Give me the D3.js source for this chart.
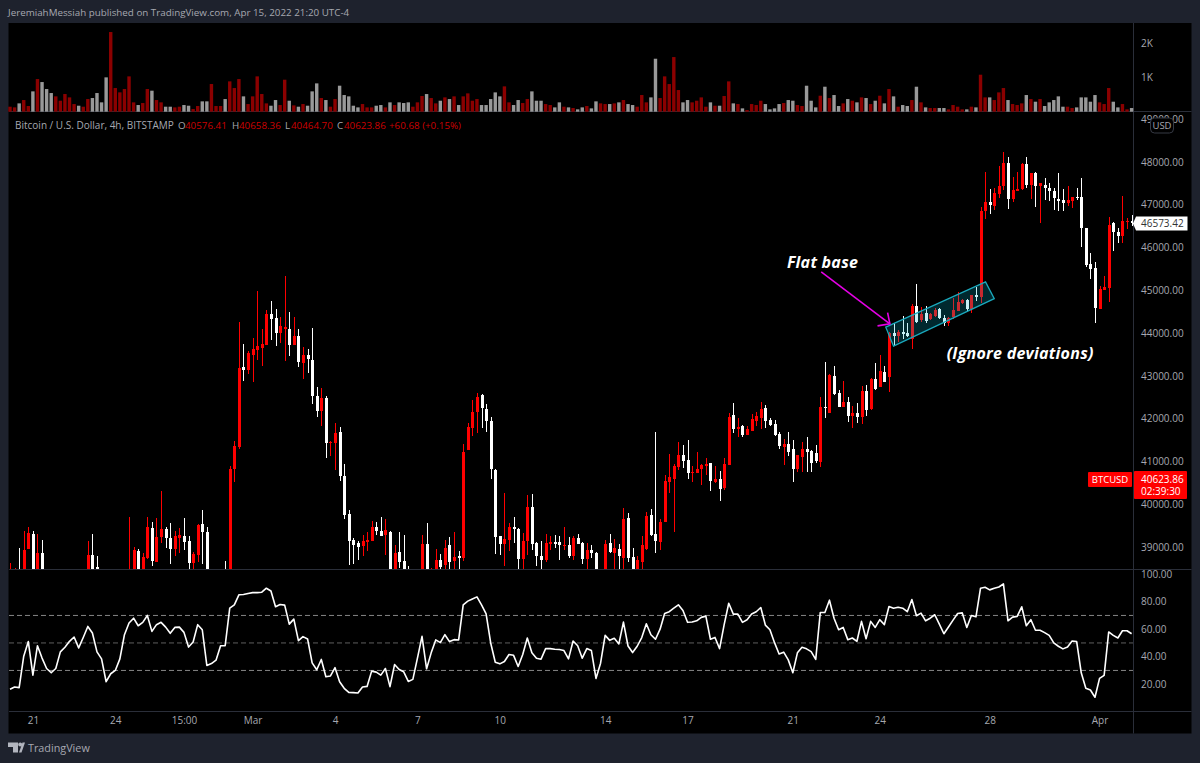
<!DOCTYPE html>
<html><head><meta charset="utf-8">
<script src="https://d3js.org/d3.v7.min.js"></script>
<style>
html,body{margin:0;padding:0;background:#1e222d;overflow:hidden}
svg{display:block}
text{font-family:"Open Sans","Liberation Sans",sans-serif}
</style></head><body>
<svg id="c" width="1200" height="763"></svg>
<script>
const headerText = "JeremiahMessiah published on TradingView.com, Apr 15, 2022 21:20 UTC-4";
const legendName = "Bitcoin / U.S. Dollar, 4h, BITSTAMP";
const legendOHLC = [["O","40576.41",178,185],["H","40658.36",232,239],["L","40464.70",285,291],["C","40623.86",337,344]];
const legendChange = "+60.68 (+0.15%)";

const opens = [38200,38250,38420,38300,38957,39307,38300,38855,38350,38300,
38050,38100,38150,38200,38100,38300,38100,38300,38817,38544,
38300,38250,37950,38100,38150,38200,38200,38300,38910,38300,
38739,39455,38661,39230,39424,39206,38949,39206,39268,39151,
38622,38817,39541,39362,38100,38150,38100,38420,38400,40826,
41348,43218,43140,43491,43607,43662,43724,44441,44355,43997,
44106,44090,43716,43935,43311,43483,43374,42532,42190,42486,
41426,41426,41691,40663,39767,39167,39089,39027,39128,39151,
39471,39385,39284,39362,38300,38879,38677,38450,38100,38150,
38300,39075,38200,38300,38700,38584,39051,38662,38779,38740,
41271,41778,42167,42557,42230,41949,40804,39246,39075,39152,
39464,39425,38724,39129,39924,39090,38779,38700,39075,39114,
39114,39028,39051,38779,39207,39090,38724,38934,38856,38100,
38300,39090,38856,38958,38740,39674,38755,38300,38638,38958,
39737,39308,39121,39589,40531,40594,40866,41155,41038,40749,
40726,40820,40897,40952,40516,40586,40376,40921,42089,41754,
41832,41614,41708,41934,42027,42261,41973,41879,41645,41341,
41412,41287,40835,41114,41286,41255,41192,40998,42283,42143,
43007,42610,42267,42384,42073,42127,42049,42657,42221,42922,
42750,43101,42968,43997,43934,44036,43997,43857,44636,44308,
44480,44324,44402,44565,44347,44246,44371,44526,44698,44768,
44565,44893,44854,46855,47057,46979,47252,47447,47969,47127,
47346,47361,47945,47462,47751,47439,47462,47400,47330,47143,
47104,47034,47088,47182,47174,46450,45616,45515,44572,45009,
45063,46566,46372,46278,46606,46621];
const closes = [38400,38420,38300,38933,39323,38300,38855,38300,38150,38050,
38250,38350,38400,38350,38300,38100,38300,38817,38300,38300,
38100,37950,38200,38300,38350,38400,38450,38933,38300,38777,
39479,38676,39230,39424,39206,38957,39268,39284,39128,38622,
38840,39518,39346,38300,38350,38380,38350,38200,40826,41372,
43187,43140,43545,43631,43701,43748,44441,44340,43997,44168,
44145,43716,43935,43327,43483,43397,42540,42190,42486,41426,
41457,41660,40671,39751,39151,39050,39011,39151,39167,39479,
39385,39268,39400,38300,38855,38660,38300,38250,38250,38350,
39075,38300,38420,38700,38529,38973,38638,38755,38740,41232,
41801,42167,42518,42245,41934,40820,39230,39075,39191,39464,
39425,38724,39129,39924,39075,38779,38700,39090,39114,39075,
39051,39051,38794,39207,39075,38724,38934,38856,38300,38300,
39075,38880,38973,38779,39659,38740,38300,38685,39036,39721,
39269,39145,39581,40547,40625,40897,41155,41014,40726,40757,
40820,40921,40944,40547,40594,40360,40944,42050,41762,41801,
41622,41754,41996,42066,42230,41934,41856,41622,41365,41412,
41232,40827,41139,41286,41231,40974,41021,42283,42244,43023,
42579,42283,42384,42073,42127,42049,42657,42205,42922,42696,
43117,42867,43997,43934,44020,43973,43934,44643,44269,44441,
44293,44449,44542,44347,44246,44347,44542,44737,44776,44558,
44893,44854,46863,47057,46995,47268,47439,47984,47135,47346,
47361,47945,47462,47735,47439,47501,47400,47330,47151,47088,
47049,47112,47190,47151,46465,45593,45499,44596,45032,45071,
46527,46372,46278,46621,46621,46573];
const highs = [38622,38520,38972,39377,39479,39377,39307,39167,38420,38400,
38380,38430,38450,38440,38400,38420,38400,39151,39300,38793,
38420,38400,38440,38420,38450,38470,39712,39011,38949,38871,
39712,39595,39673,40320,39479,39557,39377,39440,39673,39268,
38879,39541,39868,39463,38440,38450,38470,38676,40904,41481,
44254,43748,43584,43880,44978,44090,44542,44745,44558,44379,
45337,44488,44379,44090,43685,43631,44122,42735,42712,42532,
41489,41894,41800,40943,39868,39206,39144,39284,39346,39612,
39580,39697,39658,39385,39050,39346,39269,38560,38400,38450,
39285,39558,38506,38950,38841,39168,39230,39355,38895,41412,
41895,42440,42596,42580,42339,42050,40827,39246,40259,39558,
39698,39441,39324,40204,40228,39106,39145,39308,39246,39285,
39246,39464,39223,39246,39308,39114,39090,39043,38872,38440,
39168,39308,39192,39067,39908,39791,38973,38794,39261,39815,
39885,41692,39659,40687,41178,40944,41466,41388,41505,40905,
41217,40944,41069,40960,40905,40773,41077,42144,42362,42027,
41856,41817,42105,42167,42393,42331,42027,41965,41700,41521,
41692,41490,41155,41465,41582,41270,41387,42501,43335,43039,
43241,42672,42891,42517,42306,42361,42774,42789,42945,43296,
43490,43241,44036,44230,44075,44402,44230,44674,45142,44620,
44636,44464,44581,44597,44425,44386,44815,44970,44791,44791,
44893,45087,46940,47758,47369,47384,47906,48226,48124,47642,
47758,47969,48109,47735,47774,47501,47618,47517,47384,47735,
47361,47439,47190,47400,47634,46450,45865,45671,45102,45336,
46722,46605,46450,47213,46683,46761];
const lows = [38000,38100,38100,38200,38950,38200,38200,38200,38000,37900,
37950,38000,38050,38100,38000,38000,38000,38200,38200,38200,
38000,37800,37700,38000,38050,38100,38100,38200,38200,38200,
38715,38567,38645,39089,38972,38598,38801,38855,38933,38490,
38490,38661,38606,38200,38000,38050,38000,38000,38300,40530,
41294,42883,43047,42867,43374,43233,43724,43841,43701,43779,
43350,43467,43716,43210,42930,43078,42345,42049,41839,41076,
41138,40803,40554,39658,38590,38606,38700,38801,38918,39151,
39284,39268,38817,38200,38200,38500,38100,38100,38000,38050,
38200,38200,38000,38200,38490,38490,38490,38490,38490,38662,
41271,41599,41676,41778,41700,40586,38841,38802,38545,38911,
39090,38490,38490,38817,38919,38545,38490,38646,38934,38973,
38685,38934,38732,38700,39075,38607,38490,38732,38200,38000,
38200,38856,38490,38490,38490,38638,38200,38200,38490,38934,
39246,38856,38934,39589,40274,39347,40804,40843,40578,40508,
40726,40438,40687,40305,40492,40080,40321,40921,41661,41560,
41560,41614,41708,41817,41762,41793,41832,41599,41287,40921,
41131,40531,40742,40764,40764,40764,40959,40881,42010,42143,
42563,42267,42267,41932,41777,41909,41878,42073,42205,42672,
42735,42867,42634,43701,43802,43857,43919,43631,44230,44269,
44230,44308,44371,44332,44168,44168,44340,44511,44680,44527,
44464,44760,44712,46668,46777,46878,47151,47346,46894,47073,
47346,47346,47384,47127,46956,46582,47112,47088,46878,46855,
46863,46979,46917,47112,46006,45538,45258,44245,44572,45009,
44736,45920,46115,46099,46426,46500];
const volumes = [147,127,245,343,167,598,960,872,667,549,
451,323,520,421,225,176,147,372,402,549,
275,1010,2343,696,569,667,1039,275,196,255,
667,618,343,275,147,147,127,147,196,176,
78,167,304,304,814,167,167,372,892,696,
960,451,225,451,1039,520,245,176,343,196,
941,323,186,147,225,176,598,833,402,343,
147,372,765,490,451,176,127,225,127,127,
176,196,127,275,196,275,255,275,147,275,
461,519,402,245,323,421,372,451,196,451,
539,323,372,196,196,372,568,451,745,275,
196,343,255,372,598,323,323,225,196,127,
275,147,127,108,69,127,167,98,304,245,
225,225,245,275,343,225,196,147,490,275,
421,1558,402,1039,813,1607,637,275,343,275,
323,421,147,275,176,176,461,892,245,225,
98,49,225,196,323,225,69,98,225,255,
343,323,196,167,764,323,127,470,735,402,
490,167,245,372,323,275,421,402,225,323,
470,245,666,451,147,196,167,343,735,275,
127,108,108,108,108,69,196,147,69,69,
147,127,1088,421,421,343,568,696,343,225,
196,245,490,372,294,372,167,275,343,451,
147,147,108,127,421,421,294,490,275,225,
696,294,127,225,69,108];
const rsi = [16.3,18,17.5,40.4,51,26.6,48,39,31.4,28.3,
31.4,43.5,46.9,51.2,54.3,46.4,54,62,57.2,43.5,
38.4,21.8,27.6,30,38.4,56,64.5,68,62.5,65,
70,58.4,63.3,65,61.5,57,61.3,61.5,57.7,47,
50.7,63.3,59.6,33.6,35,37.5,48,48,75.3,77.7,
85,85.2,86,86.6,86.6,86.9,89.8,87.8,76.3,78,
77.5,63.7,67.3,51.7,54.6,52.9,35.5,30.5,38,25.4,
26,32,21.8,17,14,13.9,13.6,18,18.4,29.5,
28.8,26.6,31.4,18.2,34.3,30.7,29,22,23.5,39,
54.8,31.2,42.8,52.2,50.2,56,51,52.4,52.2,77.7,
80.4,82,83.5,77.7,71.2,50,36,34.8,36.5,41.6,
41,32.9,41.6,53.6,42.8,38.9,38.2,45.9,45.9,45.4,
45.2,44.5,38.4,51.4,48,38.9,45.9,44.5,24.2,35.3,
55.5,51.9,53.4,49.3,65.2,47.8,43,47.6,53.9,64,
56,52.7,60,71.4,72.7,75.3,77.7,73.6,65,65.2,
66.1,68.6,69.5,52.7,54,45.9,63.3,78.9,71,71,
65,66.9,71,72.7,75.8,63,59.6,50.2,42,43.3,
37.7,28.3,42.8,46.9,45.7,43.7,38,72.2,72.2,81.1,
68,59.6,61.3,52.4,53.6,51.2,65.7,53.1,65.7,61.3,
66.9,63.3,76.5,75.3,76,75.3,72.7,81.6,69.8,71.7,
66.1,68,70.5,63.7,56.7,61.6,66.6,71.4,71.9,61.3,
70,69,89.8,90.5,88.6,89.8,90.7,92.9,66.1,68.8,
69.3,76.3,62.5,66.9,59.2,59.2,57.5,55.5,50,47.6,
45.7,47.1,51.4,51,28.3,17,15.8,10.5,24.2,26.4,
58,55.5,53.6,58.9,58.9,56.7];

const priceTicks = [49000,48000,47000,46000,45000,44000,43000,42000,41000,40000,39000];
const volumeTicks = [1000,2000];
const rsiTicks = [100,80,60,40,20];
const rsiBands = [70,50,30];
const timeTickIndex = [5,23,38,53,71,89,107,130,148,171,190,214,238];
const timeTickLabel = ["21","24","15:00","Mar","4","7","10","14","17","21","24","28","Apr"];

// drawings, in chart coordinates (bar index, price)
const baseBoxIndex = [191.3,213.1,215,193];
const baseBoxPrice = [44139,45197,44807,43695];
const arrowIndex = [177.2,192.2];
const arrowPrice = [45430,44216];
const arrowHeadIndex = [191.7,192.2,189.5];
const arrowHeadPrice = [44480,44216,44169];
const notes = [["Flat base",169.7,45530],["(Ignore deviations)",204.6,43400]];

const BG="#1e222d", GRID="#2a2e39", TXT="#a6a8b0", UP="#ff0000", DOWN="#ffffff";
const svg = d3.select("#c");
svg.append("rect").attr("width",1200).attr("height",763).attr("fill",BG);
svg.append("rect").attr("x",8.5).attr("y",23).attr("width",1183).attr("height",710.5).attr("fill","#000");

const x = d3.scaleLinear().domain([0,245]).range([10,1131.6]);
const yP = d3.scaleLinear().domain([39000,48000]).range([547,162]);
const yV = d3.scaleLinear().domain([0,1000]).range([111.7,77.7]);
const yR = d3.scaleLinear().domain([20,80]).range([684.2,601.7]);

const defs = svg.append("defs");
defs.append("clipPath").attr("id","pp").append("rect").attr("x",9).attr("y",112).attr("width",1124).attr("height",457);

// separators
[[9,1191.5,111.5,111.5],[9,1191.5,569.5,569.5],[9,1191.5,711.5,711.5],[1133.5,1133.5,23,733.5]].forEach(l=>{
  svg.append("line").attr("x1",l[0]).attr("x2",l[1]).attr("y1",l[2]).attr("y2",l[3]).attr("stroke",GRID);
});

const idx = d3.range(opens.length);
const isUp = i => closes[i] >= opens[i];

// volume
svg.append("g").selectAll("rect").data(idx).join("rect")
  .attr("x",i=>x(i)-1.7).attr("width",3.4)
  .attr("y",i=>yV(volumes[i])).attr("height",i=>yV(0)-yV(volumes[i]))
  .attr("fill",i=>isUp(i)?"#8b0000":"#999999");

// candles
const cg = svg.append("g").attr("clip-path","url(#pp)").attr("shape-rendering","crispEdges");
cg.selectAll("line").data(idx).join("line")
  .attr("x1",i=>Math.round(x(i))+.5).attr("x2",i=>Math.round(x(i))+.5)
  .attr("y1",i=>yP(highs[i])).attr("y2",i=>yP(lows[i]))
  .attr("stroke",i=>isUp(i)?UP:DOWN).attr("stroke-width",1);
cg.selectAll("rect").data(idx).join("rect")
  .attr("x",i=>Math.round(x(i))-1).attr("width",3)
  .attr("y",i=>yP(Math.max(opens[i],closes[i])))
  .attr("height",i=>Math.max(1.5,Math.abs(yP(opens[i])-yP(closes[i]))))
  .attr("fill",i=>isUp(i)?UP:DOWN);

// RSI
svg.append("g").selectAll("line").data(rsiBands).join("line")
  .attr("x1",9).attr("x2",1133).attr("y1",d=>yR(d)).attr("y2",d=>yR(d))
  .attr("stroke",d=>d===50?"#5d5d5d":"#858585").attr("stroke-dasharray","5 3");
svg.append("path").datum(rsi)
  .attr("d",d3.line().x((d,i)=>x(i)).y(d=>yR(d)))
  .attr("fill","none").attr("stroke","#fff").attr("stroke-width",1.6).attr("stroke-linejoin","round");

// axes
function styleAxis(g){
  g.select(".domain").remove();
  g.selectAll(".tick line").remove();
  g.selectAll("text").attr("fill",TXT).style("font-size","10px").style("font-family",'"Open Sans",sans-serif');
}
svg.append("g").attr("transform","translate(1133,0)")
  .call(d3.axisRight(yP).tickValues(priceTicks).tickSize(0).tickPadding(8).tickFormat(d3.format(".2f"))).call(styleAxis);
svg.append("g").attr("transform","translate(1133,0)")
  .call(d3.axisRight(yV).tickValues(volumeTicks).tickSize(0).tickPadding(8).tickFormat(d=>(d/1000)+"K")).call(styleAxis);
svg.append("g").attr("transform","translate(1133,0)")
  .call(d3.axisRight(yR).tickValues(rsiTicks).tickSize(0).tickPadding(8).tickFormat(d3.format(".2f"))).call(styleAxis);
svg.append("g").attr("transform","translate(0,712)")
  .call(d3.axisBottom(x).tickValues(timeTickIndex).tickSize(0).tickPadding(5).tickFormat((d,i)=>timeTickLabel[i])).call(styleAxis);

// USD badge
svg.append("rect").attr("x",1150.5).attr("y",118).attr("width",23).attr("height",15).attr("rx",4)
  .attr("fill","#000").attr("stroke","#363a45");
svg.append("text").attr("x",1162).attr("y",129).attr("text-anchor","middle").attr("font-size",9.5).attr("fill",TXT).text("USD");

// last value tags
svg.append("path").attr("d","M1133,223.5 L1136,216.5 H1187.5 V230.5 H1136 Z").attr("fill","#fff");
svg.append("text").attr("x",1141).attr("y",227).attr("font-size",10).attr("fill","#333").text("46573.42");
svg.append("rect").attr("x",1088).attr("y",472).attr("width",44).attr("height",15).attr("rx",1).attr("fill","#f00");
svg.append("text").attr("x",1110).attr("y",482.5).attr("text-anchor","middle").attr("font-size",9.5).attr("fill","#fff").text("BTCUSD");
svg.append("rect").attr("x",1134).attr("y",471).attr("width",53).attr("height",28).attr("rx",1).attr("fill","#f00");
svg.append("text").attr("x",1141).attr("y",482.5).attr("font-size",10).attr("fill","#fff").text("40623.86");
svg.append("text").attr("x",1141).attr("y",494.5).attr("font-size",10).attr("fill","#fff").text("02:39:30");

// drawings
svg.append("polygon")
  .attr("points",baseBoxIndex.map((d,i)=>[x(d),yP(baseBoxPrice[i])].join(",")).join(" "))
  .attr("fill","rgba(0,188,212,0.22)").attr("stroke","#1aa9bd").attr("stroke-width",1.3);
const ln = d3.line().x(d=>x(d[0])).y(d=>yP(d[1]));
svg.append("path").attr("d",ln(d3.zip(arrowIndex,arrowPrice))).attr("fill","none").attr("stroke","#e600e6").attr("stroke-width",1.6);
svg.append("path").attr("d",ln(d3.zip(arrowHeadIndex,arrowHeadPrice))).attr("fill","none").attr("stroke","#e600e6").attr("stroke-width",1.6);
svg.append("g").selectAll("text").data(notes).join("text")
  .attr("x",d=>x(d[1])).attr("y",d=>yP(d[2]))
  .attr("fill","#fff").attr("font-size",16).attr("font-weight","bold").attr("font-style","italic")
  .attr("letter-spacing",0.25)
  .style("font-family",'"Open Sans",sans-serif').text(d=>d[0]);

// header and legend
svg.append("text").attr("x",8).attr("y",16).attr("font-size",9.8).attr("fill",TXT).text(headerText);
svg.append("text").attr("x",15).attr("y",128.5).attr("font-size",10).attr("fill",TXT).text(legendName);
legendOHLC.forEach(r=>{
  svg.append("text").attr("x",r[2]).attr("y",128.5).attr("font-size",9.8).attr("fill",TXT).text(r[0]);
  svg.append("text").attr("x",r[3]).attr("y",128.5).attr("font-size",9.8).attr("fill","#cc0000").text(r[1]);
});
svg.append("text").attr("x",389).attr("y",128.5).attr("font-size",9.8).attr("fill","#cc0000").text(legendChange);

// logo
const lg = svg.append("g").attr("fill","#b2b5be");
lg.append("path").attr("d","M8,742.5 H18 V752.5 H13 V747 H8 Z");
lg.append("circle").attr("cx",20.2).attr("cy",744.6).attr("r",2);
lg.append("path").attr("d","M19,752.5 L22.5,742.5 H25 L21.5,752.5 Z");
svg.append("text").attr("x",28).attr("y",752).attr("font-size",10.8).attr("fill",TXT).text("TradingView");
</script>
</body></html>
